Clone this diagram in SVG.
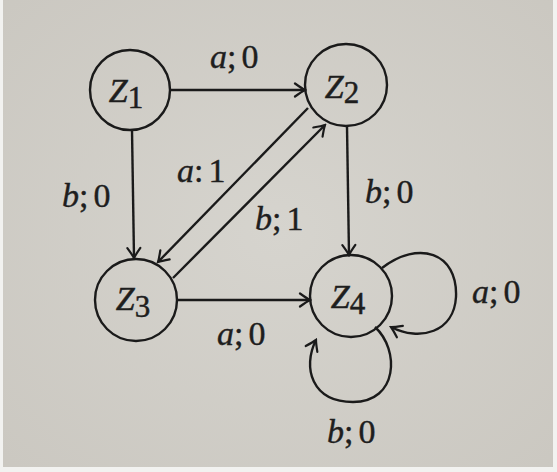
<svg xmlns="http://www.w3.org/2000/svg" width="557" height="472" viewBox="0 0 557 472">
<defs>
<radialGradient id="paper" cx="0.5" cy="0.5" r="0.75">
<stop offset="0" stop-color="#d6d4ce"/>
<stop offset="1" stop-color="#cac7c0"/>
</radialGradient>
<marker id="arr" markerUnits="userSpaceOnUse" viewBox="-12 -8 14 16" markerWidth="14" markerHeight="16" refX="0" refY="0" orient="auto">
<path d="M -10 -6.5 Q -3 -1.5 0 0 Q -3 1.5 -10 6.5" fill="none" stroke="#1a1a1a" stroke-width="2.2" stroke-linecap="round"/>
</marker>
<style>
.node circle { fill: none; stroke: #1a1a1a; stroke-width: 2.4; }
.node text { font-family: 'Liberation Serif', 'Times New Roman', 'DejaVu Serif', serif; font-size: 34px; font-style: italic; fill: #1e1e1e; stroke: #1e1e1e; stroke-width: 0.5; text-anchor: middle; }
.node tspan.sub { font-style: normal; font-size: 31px; }
.edge { fill: none; stroke: #1a1a1a; stroke-width: 2.4; marker-end: url(#arr); }
.lbl { font-family: 'Liberation Serif', 'Times New Roman', 'DejaVu Serif', serif; font-size: 34px; fill: #1e1e1e; stroke: #1e1e1e; stroke-width: 0.4; }
.lbl tspan.v { font-style: italic; }
</style>
</defs>
<rect x="0" y="0" width="557" height="472" fill="#f2f2f0"/>
<rect x="3" y="0" width="550" height="467" fill="url(#paper)"/>

<g id="connectors">
<path class="edge" d="M 170 90 L 305 90"/>
<path class="edge" d="M 132 130 L 134 258"/>
<path class="edge" d="M 347 126 L 349 255"/>
<path class="edge" d="M 177 300 L 310 300"/>
<path class="edge" d="M 308 108 L 158 262"/>
<path class="edge" d="M 173 278 L 325 125"/>
<path class="edge" d="M 382 268 C 418 240 458 252 456 297 C 454 332 420 342 391 327"/>
<path class="edge" d="M 375 327 C 400 350 398 402 353 402 C 312 402 302 368 316 340"/>
<text class="lbl" x="210" y="68"><tspan class="v">a</tspan>;<tspan dx="5">0</tspan></text>
<text class="lbl" x="62" y="207"><tspan class="v">b</tspan>;<tspan dx="5">0</tspan></text>
<text class="lbl" x="365" y="203"><tspan class="v">b</tspan>;<tspan dx="5">0</tspan></text>
<text class="lbl" x="177" y="182"><tspan class="v">a</tspan>:<tspan dx="5">1</tspan></text>
<text class="lbl" x="255" y="230"><tspan class="v">b</tspan>;<tspan dx="5">1</tspan></text>
<text class="lbl" x="217" y="345"><tspan class="v">a</tspan>;<tspan dx="5">0</tspan></text>
<text class="lbl" x="472" y="303"><tspan class="v">a</tspan>;<tspan dx="5">0</tspan></text>
<text class="lbl" x="327" y="443"><tspan class="v">b</tspan>;<tspan dx="5">0</tspan></text>
</g>

<g id="z1" class="node">
<circle cx="130" cy="90" r="40"/>
<text x="126" y="102">Z<tspan class="sub" dy="6">1</tspan></text>
</g>
<g id="z2" class="node">
<circle cx="346" cy="85" r="41"/>
<text x="342" y="98">Z<tspan class="sub" dy="5">2</tspan></text>
</g>
<g id="z3" class="node">
<circle cx="136" cy="300" r="41"/>
<text x="133" y="310">Z<tspan class="sub" dy="7">3</tspan></text>
</g>
<g id="z4" class="node">
<circle cx="351" cy="296" r="41"/>
<text x="348" y="308">Z<tspan class="sub" dy="6">4</tspan></text>
</g>
</svg>
